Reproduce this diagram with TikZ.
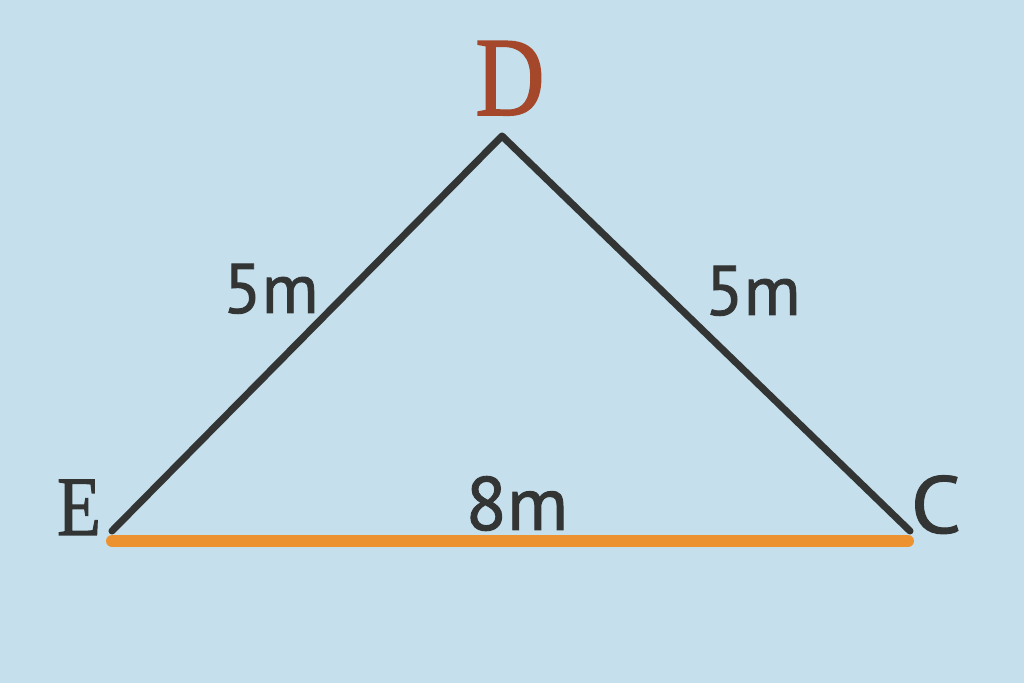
\documentclass[tikz,border=0pt]{standalone}
\usepackage{fontspec}
\newfontfamily\labelsans[FakeBold=1.2]{PT Sans}
\newfontfamily\labelserif[FakeBold=1.5]{Liberation Serif}
\definecolor{bgblue}{HTML}{C5DFEC}
\definecolor{inkgray}{HTML}{333535}
\definecolor{rust}{HTML}{A4472A}
\definecolor{marker}{HTML}{EC9230}
\begin{document}
\begin{tikzpicture}[x=0.01cm,y=-0.01cm,
  side/.style={draw=inkgray,line width=2pt,line cap=round,line join=round},
  base/.style={draw=marker,line width=3.4pt,line cap=round},
  meas/.style={text=inkgray,font=\labelsans\fontsize{20}{24}\selectfont,anchor=base,inner sep=0pt},
  vlabel/.style={text=inkgray,anchor=base,inner sep=0pt}]
\fill[bgblue] (0,0) rectangle (1024,683);
\useasboundingbox (0,0) rectangle (1024,683);
\coordinate (pD) at (502,136);
\coordinate (pE) at (112,531);
\coordinate (pC) at (910,531);
\coordinate (oE) at (112,541);
\coordinate (oC) at (908,541);
\draw[base] (oE) -- (oC);
\draw[side] (pE) -- (pD) -- (pC);
\node[vlabel,text=rust,font=\labelserif\fontsize{32}{36}\selectfont,xscale=0.85] (D) at (510,115) {D};
\node[vlabel,font=\labelserif\fontsize{24}{28}\selectfont,xscale=0.85] (E) at (79,535) {E};
\node[vlabel,font=\labelsans\fontsize{23}{28}\selectfont,xscale=1.1] (C) at (936,533) {C};
\node[meas] (l1) at (271,313) {5m};
\node[meas] (l2) at (753,315) {5m};
\node[meas,font=\labelsans\fontsize{21.5}{26}\selectfont] (l3) at (517,530) {8m};
\end{tikzpicture}
\end{document}
